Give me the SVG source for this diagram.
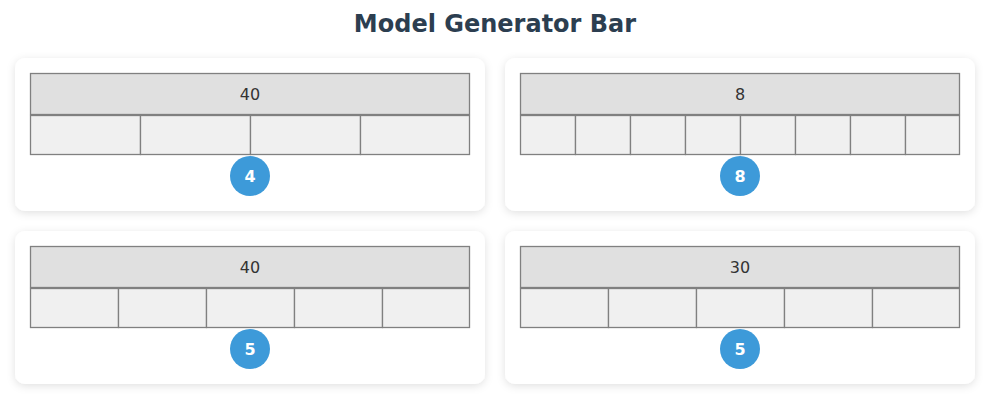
<svg xmlns="http://www.w3.org/2000/svg" width="985" height="411" viewBox="0 0 985 411">
<defs>
<filter id="sh" x="-10%" y="-20%" width="120%" height="150%">
<feDropShadow dx="0" dy="2" stdDeviation="4" flood-color="#000" flood-opacity="0.12"/>
</filter>
<style>
.card{fill:#fff;filter:url(#sh)}
.top{fill:#e0e0e0;stroke:#808080;stroke-width:1.3}
.cell{fill:#f0f0f0;stroke:#808080;stroke-width:1.3}
.val{font-family:"DejaVu Sans",sans-serif;font-size:16px;fill:#333;text-anchor:middle}
.badge{fill:#3d9ad9}
.bt{font-family:"DejaVu Sans",sans-serif;font-size:16px;font-weight:bold;fill:#fff;text-anchor:middle}
.title{font-family:"DejaVu Sans",sans-serif;font-size:24px;font-weight:bold;fill:#2c3e50;text-anchor:middle}
</style>
</defs>
<rect width="985" height="411" fill="#fff"/>
<text class="title" x="495" y="32">Model Generator Bar</text>

<g id="model1">
<rect class="card" x="15" y="58" width="470" height="153" rx="10"/>
<rect class="top" x="30.5" y="73.5" width="439" height="41"/>
<text class="val" x="250" y="100">40</text>
<rect class="cell" x="30.5" y="115.5" width="110" height="39"/>
<rect class="cell" x="140.5" y="115.5" width="110" height="39"/>
<rect class="cell" x="250.5" y="115.5" width="110" height="39"/>
<rect class="cell" x="360.5" y="115.5" width="109" height="39"/>
<circle class="badge" cx="250" cy="176" r="20"/>
<text class="bt" x="250" y="182">4</text>
</g>

<g id="model2">
<rect class="card" x="505" y="58" width="470" height="153" rx="10"/>
<rect class="top" x="520.5" y="73.5" width="439" height="41"/>
<text class="val" x="740" y="100">8</text>
<rect class="cell" x="520.5" y="115.5" width="55" height="39"/>
<rect class="cell" x="575.5" y="115.5" width="55" height="39"/>
<rect class="cell" x="630.5" y="115.5" width="55" height="39"/>
<rect class="cell" x="685.5" y="115.5" width="55" height="39"/>
<rect class="cell" x="740.5" y="115.5" width="55" height="39"/>
<rect class="cell" x="795.5" y="115.5" width="55" height="39"/>
<rect class="cell" x="850.5" y="115.5" width="55" height="39"/>
<rect class="cell" x="905.5" y="115.5" width="54" height="39"/>
<circle class="badge" cx="740" cy="176" r="20"/>
<text class="bt" x="740" y="182">8</text>
</g>

<g id="model3">
<rect class="card" x="15" y="231" width="470" height="153" rx="10"/>
<rect class="top" x="30.5" y="246.5" width="439" height="41"/>
<text class="val" x="250" y="273">40</text>
<rect class="cell" x="30.5" y="288.5" width="88" height="39"/>
<rect class="cell" x="118.5" y="288.5" width="88" height="39"/>
<rect class="cell" x="206.5" y="288.5" width="88" height="39"/>
<rect class="cell" x="294.5" y="288.5" width="88" height="39"/>
<rect class="cell" x="382.5" y="288.5" width="87" height="39"/>
<circle class="badge" cx="250" cy="349" r="20"/>
<text class="bt" x="250" y="355">5</text>
</g>

<g id="model4">
<rect class="card" x="505" y="231" width="470" height="153" rx="10"/>
<rect class="top" x="520.5" y="246.5" width="439" height="41"/>
<text class="val" x="740" y="273">30</text>
<rect class="cell" x="520.5" y="288.5" width="88" height="39"/>
<rect class="cell" x="608.5" y="288.5" width="88" height="39"/>
<rect class="cell" x="696.5" y="288.5" width="88" height="39"/>
<rect class="cell" x="784.5" y="288.5" width="88" height="39"/>
<rect class="cell" x="872.5" y="288.5" width="87" height="39"/>
<circle class="badge" cx="740" cy="349" r="20"/>
<text class="bt" x="740" y="355">5</text>
</g>
<g id="connectors"/>
</svg>
